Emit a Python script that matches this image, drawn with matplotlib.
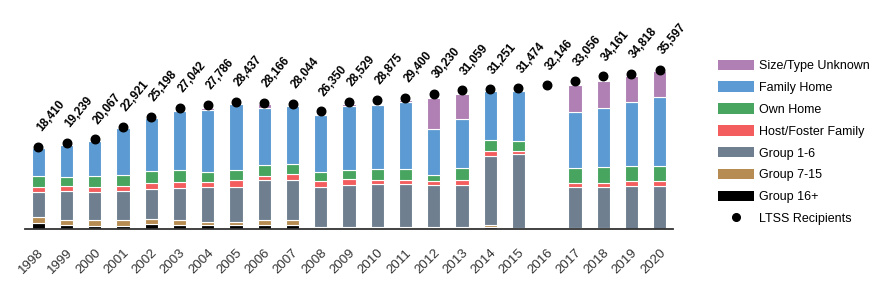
import numpy as np
import matplotlib
matplotlib.use("Agg")
import matplotlib.pyplot as plt
from matplotlib.patches import Patch
from matplotlib.lines import Line2D
from matplotlib.transforms import ScaledTranslation

plt.rcParams['font.family'] = ['Liberation Sans', 'DejaVu Sans']

# data
years = [str(y) for y in range(1998, 2021)]
group_16 = [1290, 1000, 600, 760, 1115, 850, 850, 825, 890, 890, 250, 250, 250, 250, 250, 250, 400, 0, 0, 0, 0, 0, 0]
group_7_15 = [1340, 1115, 1340, 1180, 1070, 1090, 780, 800, 1115, 1115, 300, 300, 300, 300, 300, 300, 400, 330, 0, 330, 330, 0, 0]
group_1_6 = [5730, 6470, 6420, 6650, 6670, 7140, 7670, 7890, 9080, 9080, 8790, 9410, 9450, 9450, 9250, 9300, 15540, 16500, 0, 9080, 9080, 9720, 9720]
host_foster = [1115, 1050, 1050, 1050, 1560, 1340, 1290, 1560, 890, 1180, 1340, 1180, 915, 915, 890, 1115, 1140, 600, 0, 890, 890, 960, 960]
own_home = [2450, 2070, 2410, 2500, 2480, 2700, 2070, 2070, 2250, 2185, 2070, 2160, 2430, 2430, 1340, 2610, 2500, 2300, 0, 3280, 3500, 3500, 3460]
family_home = [6130, 7180, 7960, 10390, 12020, 13270, 14090, 14870, 12910, 13130, 12780, 14320, 14410, 15010, 10410, 11110, 10990, 11150, 0, 12730, 13400, 14230, 15320]
unknown = [0, 0, 0, 0, 0, 0, 330, 0, 890, 0, 0, 330, 220, 450, 6960, 5460, 0, 0, 0, 6000, 5840, 5910, 5820]
ltss = [18410, 19239, 20067, 22921, 25198, 27042, 27786, 28437, 28166, 28044, 26350, 28529,
        28875, 29400, 30230, 31059, 31251, 31474, 32146, 33056, 34161, 34818, 35597]

series = [
    ("Group 16+", group_16, "#000000"),
    ("Group 7-15", group_7_15, "#b68c52"),
    ("Group 1-6", group_1_6, "#6f7f8f"),
    ("Host/Foster Family", host_foster, "#f45d5d"),
    ("Own Home", own_home, "#47a560"),
    ("Family Home", family_home, "#5b9ad2"),
    ("Size/Type Unknown", unknown, "#b07fb3"),
]

fig = plt.figure(figsize=(8.89, 2.90), dpi=100)
ax = fig.add_axes([25 / 889, 61 / 290, 648 / 889, 209 / 290])

x = np.arange(len(years))
bottom = np.zeros(len(years))
for name, vals, col in series:
    vals = np.array(vals, dtype=float)
    ax.bar(x, vals, bottom=bottom, width=0.47, color=col, edgecolor='white', linewidth=0.8, zorder=2)
    bottom += vals

ax.scatter(x, ltss, s=38, color='black', zorder=4)
for xi, v in zip(x, ltss):
    ax.annotate(f"{v:,}", (xi, v), xytext=(4, 9.5), textcoords='offset points',
                rotation=50, rotation_mode='anchor', ha='left', va='bottom',
                fontsize=8.5, fontweight='bold', color='black')

ax.set_xlim(-0.47, len(years) - 0.53)
ax.set_ylim(0, 209 * 224)
ax.set_xticks(x)
ax.set_xticklabels(years, rotation=45, rotation_mode='anchor', ha='right', va='center',
                   fontsize=9.5, color='#333333')
ax.tick_params(axis='x', length=0, pad=16)
shift = ScaledTranslation(4 / 100, 0, fig.dpi_scale_trans)
for lab in ax.get_xticklabels():
    lab.set_transform(lab.get_transform() + shift)
ax.set_yticks([])
for s in ['top', 'right', 'left']:
    ax.spines[s].set_visible(False)
ax.spines['bottom'].set_color('#333333')
ax.spines['bottom'].set_linewidth(1.3)

handles = [Patch(facecolor=col, label=name) for name, _, col in reversed(series)]
handles.append(Line2D([], [], marker='o', linestyle='none', color='black', markersize=5.5,
                      label='LTSS Recipients'))
fig.legend(handles=handles, loc='upper left', bbox_to_anchor=(713 / 889, 1 - 54.5 / 290),
           frameon=False, fontsize=9, handlelength=2.9, handleheight=0.9,
           labelspacing=0.75, handletextpad=0.35, borderaxespad=0)

fig.savefig("out.png", dpi=100)
